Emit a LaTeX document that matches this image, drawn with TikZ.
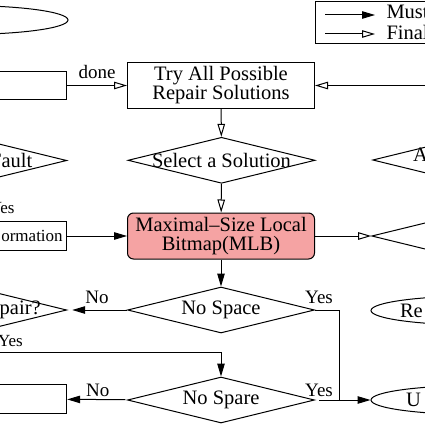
\documentclass[tikz,border=0pt]{standalone}
\usepackage{fontspec}
\setmainfont{Liberation Serif}
\usetikzlibrary{shapes.geometric,arrows.meta}
\definecolor{mlbred}{RGB}{245,163,163}
\begin{document}
\begin{tikzpicture}[x=1pt, y=-1pt, line width=1pt,
    font=\fontsize{20.5}{19}\selectfont,
    box/.style={draw, minimum width=187pt, minimum height=46pt, align=center, inner sep=0pt},
    sbox/.style={draw, minimum width=187pt, minimum height=28.5pt, inner sep=0pt},
    dia/.style={draw, diamond, minimum width=187pt, minimum height=46pt, inner sep=0pt},
    ovl/.style={draw, ellipse, minimum width=212pt, minimum height=29pt, inner sep=0pt},
    lbl/.style={inner sep=0pt},
    small/.style={font=\fontsize{17}{19}\selectfont},
    tag/.style={font=\fontsize{19}{19}\selectfont},
    must/.style={-{Triangle[length=13pt,width=7.5pt]}},
    final/.style={-{Triangle[open,length=13pt,width=7.5pt]}}]
    \useasboundingbox (0,0) rectangle (425,425);
    \clip (0,0) rectangle (425,425);
    \node[ovl] (start) at (-38,20) {};
    \node[draw, anchor=north west, minimum width=130pt, minimum height=42pt] (legend) at (315,1.3) {};
    \coordinate (m1) at (325,15);
    \coordinate (m2) at (375,15);
    \coordinate (f1) at (325,34);
    \coordinate (f2) at (375,34);
    \draw[must] (m1) -- (m2);
    \draw[final] (f1) -- (f2);
    \node[lbl, anchor=base west] (mustT) at (386,19) {Must};
    \node[lbl, anchor=base west] (finalT) at (386,39.3) {Final};
    \node[sbox] (chk) at (-26.8,85.5) {};
    \node[box] (try) at (221,85.5) {Try All Possible\\Repair Solutions};
    \node[dia, label={[lbl, xshift=38pt]center:Fault}] (fault) at (-26.8,160.5) {};
    \node[dia, label={[lbl]center:Select a Solution}] (sel) at (221.5,160.3) {};
    \node[dia, label={[lbl, xshift=-45.8pt, yshift=4.8pt]center:A}] (adia) at (466.2,160) {};
    \node[lbl, anchor=base east, small] (yes1) at (15,213) {Yes};
    \node[sbox, text width=179pt, inner xsep=4pt, align=right, small] (info) at (-26.8,236) {ormation};
    \node[box, rounded corners=6pt, fill=mlbred] (mlb) at (221,236) {Maximal--Size Local\\Bitmap(MLB)};
    \node[dia] (rdia) at (465.2,236) {};
    \node[dia, label={[lbl, xshift=47pt]center:pair?}] (rep) at (-26.8,310) {};
    \node[dia, label={[lbl]center:No Space}] (nsp) at (221,310) {};
    \node[ovl, label={[lbl, xshift=-65.6pt]center:Re}] (reo) at (477,310.5) {};
    \node[lbl, anchor=base east, small] (yes3) at (23.3,346) {Yes};
    \node[sbox] (lbox) at (-26.8,399) {};
    \node[dia, label={[lbl]center:No Spare}] (nsr) at (221,400) {};
    \node[ovl, label={[lbl, xshift=-63.6pt]center:U}] (uo) at (477,400) {};
    \coordinate (rin) at (430,85.5);
    \coordinate (jn) at (339,400);
    \draw[final] (chk) -- (try) node[midway, above=2.5pt, tag] {done};
    \draw[final] (rin) -- (try);
    \draw[final] (try) -- (sel);
    \draw[final] (sel) -- (mlb);
    \draw[must] (info) -- (mlb);
    \draw[final] (mlb) -- (rdia);
    \draw[must] (mlb) -- (nsp);
    \draw[must, shorten >=5pt] (nsp) -- (rep) node[midway, above=2.5pt, tag] {No};
    \draw (nsp.east) node[above=2.5pt, xshift=4pt, tag] {Yes} -| (jn);
    \draw[must] (rep.south) -- ++(0,19) -| (nsr.north);
    \draw[must, shorten <=3pt] (nsr) -- (lbox) node[midway, above=-1pt, tag] {No};
    \draw[must, shorten <=4pt] (nsr.east) node[above=-1pt, xshift=4pt, tag] {Yes} -- (uo);
\end{tikzpicture}
\end{document}
